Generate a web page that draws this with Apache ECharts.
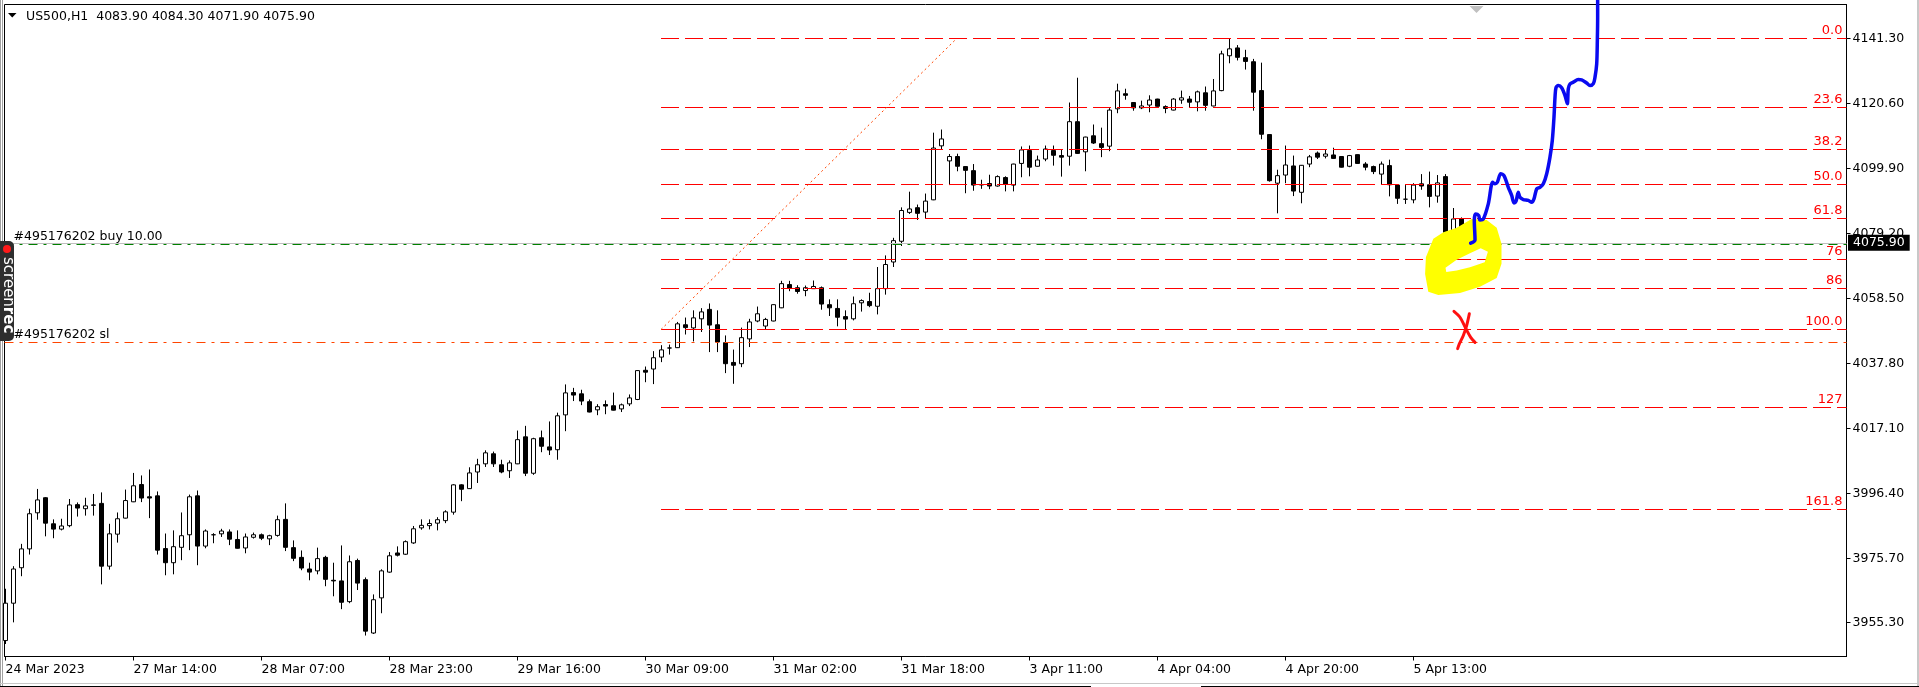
<!DOCTYPE html>
<html><head><meta charset="utf-8">
<script src="https://cdn.jsdelivr.net/npm/echarts@6/dist/echarts.min.js"></script>
<style>html,body{margin:0;padding:0;background:#fff;overflow:hidden}#c{width:1919px;height:687px}</style>
</head><body><div id="c"></div>
<script>
// ---------- DATA (US500, H1) ----------
const symbolName = 'US500,H1';
const openP = [3949.5,3961.4,3972.7,3978.7,3990.2,3995.0,3986.7,3985.0,3986.1,3992.8,
3991.5,3992.7,3993.2,3973.2,3983.4,3988.5,3993.7,3999.2,3995.3,3995.6,
3978.8,3974.3,3979.2,3983.2,3995.6,3979.6,3983.2,3983.5,3984.1,3981.7,
3979.0,3982.4,3983.2,3981.9,3983.0,3988.1,3979.1,3976.0,3972.3,3971.7,
3976.0,3968.7,3968.5,3961.9,3975.0,3968.9,3951.9,3963.1,3971.3,3977.4,
3977.0,3980.6,3985.4,3986.1,3986.9,3987.7,3990.4,3999.1,3997.9,4003.2,
4005.8,4009.0,4005.5,4003.6,4005.8,4014.4,4002.8,4014.1,4011.2,4010.3,
4021.4,4028.5,4028.1,4025.6,4023.0,4024.7,4024.3,4023.3,4024.9,4026.3,
4035.6,4036.0,4039.8,4042.7,4042.8,4050.1,4049.1,4052.0,4055.0,4050.1,
4044.4,4038.1,4037.7,4045.6,4051.3,4049.7,4051.3,4055.5,4062.9,4061.9,
4061.0,4061.6,4061.9,4056.5,4055.3,4052.7,4052.0,4057.1,4057.5,4056.0,
4061.6,4070.1,4076.7,4085.9,4087.4,4086.0,4089.9,4107.1,4102.3,4103.7,
4100.5,4099.2,4094.7,4095.1,4094.3,4097.0,4094.6,4101.5,4105.6,4100.6,
4102.9,4105.6,4104.0,4103.8,4114.8,4105.2,4110.3,4107.8,4107.0,4118.9,
4123.7,4120.9,4119.2,4120.1,4122.0,4119.6,4118.5,4121.7,4122.0,4121.1,
4124.0,4119.8,4124.7,4135.8,4138.3,4135.2,4133.9,4124.7,4110.7,4095.2,
4097.8,4100.7,4092.3,4101.3,4104.8,4103.8,4104.2,4103.7,4100.6,4104.3,
4101.3,4100.5,4098.1,4100.8,4094.6,4090.1,4089.9,4095.0,4094.7,4091.1,
4097.3,4076.1,4083.9];
const highP = [3966.0,3973.2,3980.3,3991.5,3997.8,3995.2,3988.1,3988.3,3994.6,3993.5,
3995.0,3996.2,3996.7,3986.7,3990.3,3997.6,4002.9,4002.1,4004.0,3997.0,
3983.6,3984.6,3990.3,3996.0,3997.3,3984.9,3983.7,3985.1,3984.9,3984.6,
3983.6,3983.9,3983.6,3983.2,3989.3,3993.2,3981.4,3978.2,3974.3,3979.1,
3976.5,3974.3,3979.8,3976.6,3975.6,3969.6,3964.2,3972.2,3977.7,3979.5,
3981.4,3986.0,3988.1,3988.1,3988.8,3991.0,3999.3,3999.3,4004.7,4007.4,
4010.1,4009.7,4007.1,4006.9,4016.4,4017.9,4014.1,4016.4,4019.3,4022.1,
4031.1,4030.0,4029.4,4026.3,4024.8,4026.0,4028.5,4025.0,4027.9,4035.6,
4036.8,4041.7,4043.6,4043.8,4051.0,4052.4,4054.7,4055.4,4056.9,4054.7,
4046.7,4042.2,4049.2,4052.0,4055.9,4052.3,4056.6,4064.1,4064.1,4062.7,
4062.6,4064.2,4062.3,4058.2,4058.2,4054.7,4059.1,4058.2,4060.3,4068.5,
4072.2,4077.8,4087.5,4092.5,4088.4,4091.9,4111.3,4112.3,4104.5,4104.6,
4100.6,4101.3,4096.3,4097.9,4097.7,4097.4,4101.4,4106.9,4107.2,4104.0,
4107.2,4107.2,4105.8,4120.9,4128.8,4110.0,4113.9,4112.9,4119.1,4126.9,
4125.3,4121.0,4121.5,4123.2,4122.1,4120.0,4122.3,4124.7,4123.0,4124.7,
4126.0,4128.4,4137.4,4141.3,4139.2,4137.7,4134.8,4133.6,4110.8,4099.5,
4107.2,4104.0,4101.0,4104.2,4105.3,4105.9,4106.5,4103.8,4104.2,4104.4,
4101.9,4100.8,4102.1,4102.7,4094.7,4094.6,4095.2,4098.1,4098.9,4097.8,
4098.1,4087.3,4084.3];
const lowP = [3948.4,3955.3,3970.0,3976.9,3988.0,3982.7,3982.1,3984.6,3985.6,3989.0,
3989.3,3989.3,3967.4,3972.1,3980.7,3988.4,3993.6,3993.6,3988.5,3976.9,
3970.3,3970.6,3975.1,3978.3,3973.5,3978.9,3980.5,3982.5,3979.9,3978.8,
3977.3,3982.0,3981.5,3979.9,3982.6,3978.0,3974.8,3971.9,3968.7,3970.6,
3966.8,3963.6,3959.5,3961.4,3965.6,3951.1,3951.6,3958.2,3971.1,3976.3,
3976.8,3980.3,3984.8,3984.9,3984.6,3986.9,3989.6,3993.9,3997.8,3999.7,
4004.8,4004.8,4002.8,4001.3,4005.7,4001.9,4002.3,4009.5,4008.6,4007.1,
4016.2,4025.8,4024.5,4022.2,4021.3,4021.6,4022.8,4022.3,4024.2,4026.1,
4031.8,4031.2,4038.2,4040.6,4042.7,4047.0,4044.8,4047.8,4041.4,4041.4,
4034.7,4031.3,4036.6,4043.0,4050.9,4048.6,4051.2,4055.4,4060.8,4060.0,
4059.2,4061.5,4054.9,4052.9,4049.6,4048.5,4051.5,4054.3,4055.7,4053.4,
4059.7,4068.5,4075.2,4085.4,4083.5,4083.8,4089.8,4106.0,4094.6,4099.0,
4092.0,4092.8,4093.4,4093.3,4094.1,4092.6,4092.6,4097.1,4097.4,4100.5,
4102.2,4100.8,4097.3,4100.8,4104.5,4099.0,4107.7,4103.5,4105.4,4117.5,
4121.8,4118.3,4118.8,4117.8,4119.6,4117.5,4118.4,4120.5,4119.2,4118.1,
4118.3,4119.7,4124.5,4133.4,4134.3,4131.4,4118.3,4109.2,4095.7,4085.6,
4095.2,4091.1,4088.8,4100.3,4102.9,4103.1,4103.0,4100.2,4100.3,4101.4,
4099.3,4098.1,4094.7,4091.0,4088.6,4088.6,4088.8,4093.1,4087.5,4089.0,
4075.1,4074.5,4071.9];
const closeP = [3961.4,3972.3,3978.7,3989.9,3994.3,3986.9,3985.0,3986.0,3992.7,3991.7,
3992.4,3992.6,3973.2,3983.5,3988.3,3994.1,3998.8,3994.9,3994.9,3978.3,
3974.3,3979.4,3982.9,3995.3,3979.6,3984.4,3983.2,3984.4,3981.8,3978.9,
3982.5,3983.2,3982.1,3982.9,3988.0,3979.2,3975.7,3972.6,3971.3,3975.6,
3969.0,3968.5,3961.7,3974.6,3967.8,3952.5,3962.5,3971.7,3976.5,3976.7,
3981.0,3985.1,3986.2,3986.8,3988.0,3990.5,3999.1,3997.7,4002.9,4005.5,
4009.3,4005.8,4003.2,4006.1,4013.5,4002.8,4013.8,4011.4,4010.2,4021.1,
4028.4,4027.7,4025.8,4022.3,4024.0,4024.2,4022.9,4024.6,4026.8,4035.5,
4035.0,4039.6,4042.1,4042.7,4050.4,4049.2,4052.3,4054.2,4050.0,4044.6,
4037.7,4037.2,4046.0,4051.0,4053.6,4051.8,4056.5,4063.2,4061.8,4060.7,
4061.9,4062.3,4056.7,4055.5,4052.5,4051.9,4056.8,4057.8,4056.2,4061.6,
4069.3,4076.9,4086.5,4087.0,4085.6,4089.5,4106.4,4109.3,4103.7,4100.6,
4099.3,4094.6,4094.7,4094.3,4097.3,4094.9,4101.3,4105.8,4100.3,4102.6,
4106.1,4104.1,4103.5,4114.8,4104.7,4109.9,4108.0,4106.6,4118.5,4124.6,
4123.2,4119.2,4119.8,4121.7,4119.7,4119.0,4122.0,4122.4,4121.0,4124.3,
4120.0,4124.6,4136.4,4138.0,4135.3,4134.0,4124.2,4110.8,4096.0,4097.6,
4101.0,4092.7,4100.9,4103.6,4103.5,4104.5,4103.1,4100.3,4104.0,4101.5,
4100.3,4098.9,4101.3,4094.7,4090.4,4090.1,4094.6,4094.3,4091.0,4095.3,
4076.4,4083.8,4075.9];

const timeTickBars = [0,16,32,48,64,80,96,112,128,144,160,176];
const timeTickLabels = ['24 Mar 2023','27 Mar 14:00','28 Mar 07:00','28 Mar 23:00','29 Mar 16:00','30 Mar 09:00',
  '31 Mar 02:00','31 Mar 18:00','3 Apr 11:00','4 Apr 04:00','4 Apr 20:00','5 Apr 13:00'];
const priceTicks = [4141.30,4120.60,4099.90,4079.20,4058.50,4037.80,4017.10,3996.40,3975.70,3955.30];

const fibNames  = ['0.0','23.6','38.2','50.0','61.8','76','86','100.0','127','161.8'];
const fibPrices = [4141.30,4119.32,4105.94,4094.79,4083.96,4070.89,4061.66,4048.59,4023.74,3991.25];
const fibStartBar = 81.94;
const trendLine = [[81.94,4048.59],[118.9,4141.3]];

const bidPrice = 4076.2, buyPrice = 4075.6, slPrice = 4044.45;
const buyText = '#495176202 buy 10.00', slText = '#495176202 sl';

const blueStroke = [[183.15,4076.1],[183.69,4077.1],[183.60,4083.3],[183.77,4085.4],[184.15,4084.9],[184.31,4083.5],
[184.73,4083.8],[185.35,4088.6],[185.90,4095.5],[186.19,4095.0],[186.48,4095.5],[186.90,4098.2],[187.31,4097.6],
[187.85,4093.9],[188.27,4091.3],[188.56,4088.9],[188.81,4089.4],[189.10,4092.3],[189.31,4090.7],[189.73,4090.0],
[190.35,4089.7],[190.77,4089.1],[191.06,4090.2],[191.40,4093.4],[191.81,4093.9],[192.23,4095.0],[192.65,4098.2],
[193.06,4103.5],[193.35,4108.8],[193.56,4116.2],[193.69,4122.6],[193.81,4125.6],[194.10,4126.3],[194.52,4125.6],
[194.94,4123.1],[195.23,4120.5],[195.35,4125.3],[195.56,4126.8],[195.98,4127.4],[196.60,4128.2],[197.02,4128.1],
[197.65,4127.1],[198.06,4126.3],[198.48,4126.9],[198.69,4129.0],[198.90,4133.2],[198.98,4140.7],[199.02,4148.1],[199.02,4153.4]];
const crossStroke1 = [[181.06,4054.4],[181.81,4052.5],[182.56,4048.8],[183.15,4046.1],[183.69,4044.5]];
const crossStroke2 = [[182.98,4053.6],[182.65,4049.9],[182.23,4046.7],[181.73,4044.0],[181.52,4042.5]];
const highlightOuter = [[178.48,4077.5],[179.73,4079.6],[181.40,4081.0],[183.27,4083.8],[185.15,4083.5],[186.40,4081.0],
[187.00,4075.9],[187.00,4069.5],[186.40,4065.0],[184.31,4062.2],[181.81,4060.2],[179.10,4059.6],[177.85,4060.6],
[177.45,4066.3],[177.55,4071.6]];
const highlightHole = [[180.00,4068.3],[181.40,4070.8],[183.06,4072.9],[184.40,4074.5],[185.30,4073.4],[184.90,4070.0],
[183.06,4068.4],[181.40,4067.4],[180.10,4066.9]];

// ---------- CHART ----------
const FONT = 'DejaVu Sans';
const FS = 12.5;
const xMin = -0.125, xMax = 230.125;
const yMin = 3944.42, yMax = 4152.13;
const n = closeP.length;
const candleData = openP.map((o, i) => [i, o, closeP[i], lowP[i], highP[i]]);
const titleText = symbolName + '  ' + [openP[n-1], highP[n-1], lowP[n-1], closeP[n-1]].map(v => v.toFixed(2)).join(' ');

const chart = echarts.init(document.getElementById('c'), null, {renderer: 'canvas'});
const option = {
  animation: false,
  backgroundColor: '#ffffff',
  grid: {left: 4.5, right: 72.5, top: 4.5, bottom: 30.5, show: true, borderColor: '#000', borderWidth: 1, backgroundColor: 'transparent'},
  xAxis: {
    type: 'value', min: xMin, max: xMax,
    splitLine: {show: false},
    axisLine: {show: true, onZero: false, lineStyle: {color: '#000', width: 1}},
    axisTick: {show: true, customValues: timeTickBars, length: 4, lineStyle: {color: '#000'}},
    axisLabel: {customValues: timeTickBars, formatter: v => timeTickLabels[timeTickBars.indexOf(Math.round(v))] || '',
      align: 'left', color: '#000', fontFamily: FONT, fontSize: FS, margin: 7}
  },
  yAxis: {
    type: 'value', position: 'right', min: yMin, max: yMax, scale: true,
    splitLine: {show: false},
    axisLine: {show: true, onZero: false, lineStyle: {color: '#000', width: 1}},
    axisTick: {show: true, customValues: priceTicks, length: 4, lineStyle: {color: '#000'}},
    axisLabel: {customValues: priceTicks, formatter: v => Number(v).toFixed(2), color: '#000', fontFamily: FONT, fontSize: FS, margin: 6}
  },
  series: [
    {
      name: 'price', type: 'candlestick', data: candleData, barWidth: 4, z: 4, silent: true,
      itemStyle: {color: '#ffffff', color0: '#000000', borderColor: '#000000', borderColor0: '#000000', borderColorDoji: '#000000', borderWidth: 1}
    },
    {
      name: 'fib', type: 'line', data: [], z: 5, silent: true,
      markLine: {
        silent: true, symbol: ['none', 'none'], animation: false, emphasis: {disabled: true},
        lineStyle: {color: '#ff0000', width: 1, type: [18, 6]},
        label: {show: true, position: 'insideEndTop', formatter: '{b}', color: '#ff0000', fontFamily: FONT, fontSize: 13, distance: [4, 1], padding: 0},
        data: fibPrices.map((p, i) => [{coord: [fibStartBar, p], name: fibNames[i]}, {coord: [xMax, p]}])
      }
    },
    {
      name: 'trend', type: 'line', data: trendLine, z: 5, silent: true, symbol: 'none',
      lineStyle: {color: '#ff4500', width: 1, type: [2, 3]}
    },
    {
      name: 'orders', type: 'line', data: [], z: 6, silent: true,
      markLine: {
        silent: true, symbol: ['none', 'none'], animation: false, emphasis: {disabled: true},
        label: {fontFamily: FONT, fontSize: FS, padding: 0},
        data: [
          [{coord: [xMin, bidPrice], lineStyle: {color: '#c0c0c0', width: 1, type: 'solid'},
            label: {show: true, position: 'end', formatter: closeP[n-1].toFixed(2), backgroundColor: '#000', color: '#fff',
              padding: [2, 5, 1, 5], distance: 1.5, fontFamily: FONT, fontSize: FS}},
           {coord: [xMax, bidPrice]}],
          [{coord: [xMin, buyPrice], lineStyle: {color: '#008000', width: 1, type: [9, 6, 3, 6]},
            label: {show: true, position: 'insideStartTop', formatter: buyText, color: '#000', distance: [9, 1], fontFamily: FONT, fontSize: FS}},
           {coord: [xMax, buyPrice]}],
          [{coord: [xMin, slPrice], lineStyle: {color: '#ff4500', width: 1, type: [9, 6, 3, 6]},
            label: {show: true, position: 'insideStartTop', formatter: slText, color: '#000', distance: [9, 1], fontFamily: FONT, fontSize: FS}},
           {coord: [xMax, slPrice]}]
        ]
      }
    },
    {
      name: 'highlight', type: 'custom', coordinateSystem: 'cartesian2d', z: 20, silent: true, clip: false,
      data: [[182, 4070]],
      renderItem: (params, api) => {
        const toPath = pts => pts.map((p, i) => { const c = api.coord(p); return (i ? 'L' : 'M') + c[0].toFixed(2) + ' ' + c[1].toFixed(2); }).join(' ') + ' Z';
        const d = toPath(highlightOuter) + ' ' + toPath(highlightHole.slice().reverse());
        return {type: 'path', shape: {pathData: d}, style: {fill: '#ffff00', blend: 'multiply'}};
      }
    },
    {
      name: 'forecast', type: 'line', data: blueStroke, z: 30, silent: true, symbol: 'none', smooth: 0.3, clip: false,
      lineStyle: {color: '#0a0af0', width: 3.5, cap: 'round', join: 'round'}
    },
    {
      name: 'x1', type: 'line', data: crossStroke1, z: 30, silent: true, symbol: 'none', smooth: 0.3, clip: false,
      lineStyle: {color: '#ff1010', width: 3, cap: 'round'}
    },
    {
      name: 'x2', type: 'line', data: crossStroke2, z: 30, silent: true, symbol: 'none', smooth: 0.3, clip: false,
      lineStyle: {color: '#ff1010', width: 3, cap: 'round'}
    }
  ],
  graphic: [
    {type: 'rect', silent: true, shape: {x: 0, y: 0, width: 1, height: 687}, style: {fill: '#a0a0a0'}},
    {type: 'rect', silent: true, shape: {x: 2, y: 0, width: 1, height: 687}, style: {fill: '#a0a0a0'}},
    {type: 'rect', silent: true, shape: {x: 1917, y: 0, width: 2, height: 687}, style: {fill: '#c8c8c8'}},
    {type: 'rect', silent: true, shape: {x: 0, y: 683, width: 1919, height: 1}, style: {fill: '#c8c8c8'}},
    {type: 'rect', silent: true, shape: {x: 0, y: 686, width: 1091, height: 1}, style: {fill: '#000'}},
    {type: 'rect', silent: true, shape: {x: 1201, y: 686, width: 718, height: 1}, style: {fill: '#000'}},
    {type: 'polygon', silent: true, shape: {points: [[8, 13], [16.5, 13], [12.25, 17.5]]}, style: {fill: '#000'}},
    {type: 'text', silent: true, x: 26, y: 16.5, style: {text: titleText, font: FS + 'px "' + FONT + '"', fill: '#000', verticalAlign: 'middle', align: 'left'}},
    {type: 'polygon', silent: true, shape: {points: [[1469.5, 6], [1483.5, 6], [1476.5, 13]]}, style: {fill: '#c0c0c0'}},
    {type: 'rect', silent: true, z: 100, shape: {x: 0, y: 241, width: 14, height: 100, r: [0, 5, 5, 0]}, style: {fill: '#2e2e2e'}},
    {type: 'circle', silent: true, z: 101, shape: {cx: 7, cy: 249, r: 4}, style: {fill: '#ff1a1a'}},
    {type: 'text', silent: true, z: 101, x: 7.5, y: 257, rotation: -Math.PI / 2,
      style: {text: '{a|screen}{b|rec}', align: 'left', verticalAlign: 'middle',
        rich: {a: {fontFamily: FONT, fontSize: 15, fill: '#fff', color: '#fff'}, b: {fontFamily: FONT, fontSize: 15, fontWeight: 'bold', fill: '#fff', color: '#fff'}}}}
  ]
};
chart.setOption(option);
</script>
</body></html>
